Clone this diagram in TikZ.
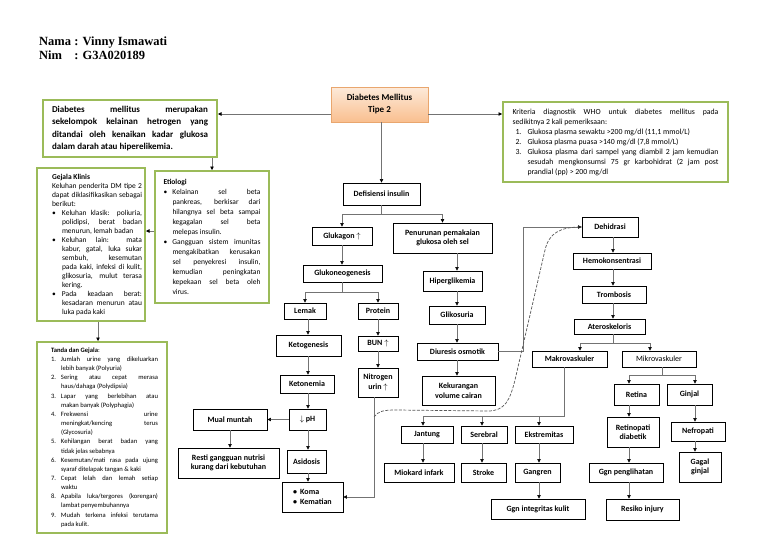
\documentclass[tikz,border=0pt]{standalone}
\usepackage{fontspec}
\setmainfont{Carlito}
\newfontfamily\titlefont{Liberation Serif}
\usetikzlibrary{arrows.meta,shadows,calc}
\definecolor{gborder}{HTML}{9BBB59}
\definecolor{dmtop}{HTML}{FDEADA}
\definecolor{dmbot}{HTML}{F9BF8F}
\definecolor{dmdraw}{HTML}{E9A66E}
\newcommand\JL[2]{\makebox[#1][s]{#2}}
\newcommand\BL[3]{\makebox[#1][l]{\textbullet}\makebox[#2][s]{#3}}
\newcommand\CL[3]{\hspace*{#1}\makebox[#2][s]{#3}}
\newcommand\LL[2]{\hspace*{#1}#2}
\newcommand\TN[2]{\makebox[10pt][l]{#1}\makebox[97pt][s]{#2}}
\newcommand\TC[1]{\hspace*{10pt}\makebox[97pt][s]{#1}}
\newcommand\TL[1]{\hspace*{10pt}#1}
\newcommand\bx[7][]{\node[box,#1,minimum width={#5-#3},minimum height={#6-#4}] (#2) at ({(#3+#5)/2},{(#4+#6)/2}) {#7};}
\begin{document}
\begin{tikzpicture}[x=1pt,y=-1pt,
  box/.style={draw=black, line width=0.9pt, fill=white, inner sep=0pt, align=center,
    font=\fontsize{8}{9.5}\selectfont\bfseries,
    drop shadow={shadow xshift=1pt, shadow yshift=-1pt, opacity=0.25}},
  gbox/.style={draw=gborder, line width=2pt, fill=white, inner sep=0pt},
  conn/.style={draw=black!55, line width=0.6pt, -{Triangle[color=black,length=3.5pt,width=3.5pt]}},
  plain/.style={draw=black!55, line width=0.6pt},
  dline/.style={draw=black!65, line width=0.7pt, dash pattern=on 3pt off 1.5pt}]
\useasboundingbox (0,0) rectangle (768,543);
\fill[white] (0,0) rectangle (768,543);

% helper coordinates
\coordinate (y114) at (0,114);
\coordinate (y231) at (0,231);
\coordinate (x98) at (98,0);
\coordinate (x374) at (374,0);
\coordinate (x523) at (523,0);
\coordinate (x613) at (613,0);
\coordinate (y343) at (0,343);
\coordinate (x580) at (580,0);
\coordinate (x650) at (650,0);
\coordinate (y375) at (0,375);
\coordinate (x629) at (629,0);
\coordinate (x662) at (662,0);
\coordinate (x695) at (695,0);
\coordinate (y416) at (0,416);
\coordinate (x564) at (564,0);
\coordinate (x423) at (423,0);
\coordinate (x482) at (482,0);
\coordinate (x539) at (539,0);
\coordinate (x308) at (308,0);
\coordinate (x457) at (457,0);

% title
\node[anchor=north west, inner sep=0pt, font=\titlefont\bfseries\fontsize{12.5}{14.5}\selectfont] (title) at (39,35)
  {\begin{tabular}{@{}l@{ }l@{}}Nama & : Vinny Ismawati\\ Nim & : G3A020189\end{tabular}};

% green text boxes
\node[gbox, minimum width=174, minimum height=57] (def) at (130,128.5)
  {\parbox{156pt}{\fontsize{9}{12.5}\selectfont\bfseries
   \JL{156pt}{Diabetes mellitus merupakan}\\
   \JL{156pt}{sekelompok kelainan hetrogen yang}\\
   \JL{156pt}{ditandai oleh kenaikan kadar glukosa}\\
   dalam darah atau hiperelikemia.}};

\node[gbox, minimum width=225, minimum height=80] (who) at (615.5,142)
  {\parbox{206pt}{\fontsize{7.8}{10}\selectfont
   \JL{206pt}{Kriteria diagnostik WHO untuk diabetes mellitus pada}\\
   sedikitnya 2 kali pemeriksaan:\\
   \hspace*{3pt}\makebox[12pt][l]{1.}Glukosa plasma sewaktu >200 mg/dl (11,1 mmol/L)\\
   \hspace*{3pt}\makebox[12pt][l]{2.}Glukosa plasma puasa >140 mg/dl (7,8 mmol/L)\\
   \hspace*{3pt}\makebox[12pt][l]{3.}\makebox[191pt][s]{Glukosa plasma dari sampel yang diambil 2 jam kemudian}\\
   \CL{15pt}{191pt}{sesudah mengkonsumsi 75 gr karbohidrat (2 jam post}\\
   \LL{15pt}{prandial (pp) > 200 mg/dl}}};

\node[gbox, minimum width=108, minimum height=153] (gk) at (91,244.5)
  {\hspace*{12pt}\parbox{90pt}{\fontsize{7.5}{9}\selectfont
   \textbf{Gejala Klinis}\\
   \JL{90pt}{Keluhan penderita DM tipe 2}\\
   \JL{90pt}{dapat diklasifikasikan sebagai}\\
   berikut:\\
   \BL{10pt}{80pt}{Keluhan klasik: poliuria,}\\
   \CL{10pt}{80pt}{polidipsi, berat badan}\\
   \LL{10pt}{menurun, lemah badan}\\
   \BL{10pt}{80pt}{Keluhan lain: mata}\\
   \CL{10pt}{80pt}{kabur, gatal, luka sukar}\\
   \CL{10pt}{80pt}{sembuh, kesemutan}\\
   \CL{10pt}{80pt}{pada kaki, infeksi di kulit,}\\
   \CL{10pt}{80pt}{glikosuria, mulut terasa}\\
   \LL{10pt}{kering.}\\
   \BL{10pt}{80pt}{Pada keadaan berat:}\\
   \CL{10pt}{80pt}{kesadaran menurun atau}\\
   \LL{10pt}{luka pada kaki}}};

\node[gbox, minimum width=114, minimum height=132] (etio) at (212,237)
  {\parbox{97pt}{\fontsize{7.5}{10}\selectfont
   \textbf{Etiologi}\\
   \BL{9pt}{88pt}{Kelainan sel beta}\\
   \CL{9pt}{88pt}{pankreas, berkisar dari}\\
   \CL{9pt}{88pt}{hilangnya sel beta sampai}\\
   \CL{9pt}{88pt}{kegagalan sel beta}\\
   \LL{9pt}{melepas insulin.}\\
   \BL{9pt}{88pt}{Gangguan sistem imunitas}\\
   \CL{9pt}{88pt}{mengakibatkan kerusakan}\\
   \CL{9pt}{88pt}{sel penyekresi insulin,}\\
   \CL{9pt}{88pt}{kemudian peningkatan}\\
   \CL{9pt}{88pt}{kepekaan sel beta oleh}\\
   \LL{9pt}{virus.}}};

\node[gbox, minimum width=130, minimum height=191] (tanda) at (102,437.5)
  {\hspace*{5pt}\parbox{107pt}{\fontsize{6.6}{9.15}\selectfont
   \textbf{Tanda dan Gejala}:\\
   \TN{1.}{Jumlah urine yang dikeluarkan}\\
   \TL{lebih banyak (Polyuria)}\\
   \TN{2.}{Sering atau cepat merasa}\\
   \TL{haus/dahaga (Polydipsia)}\\
   \TN{3.}{Lapar yang berlebihan atau}\\
   \TL{makan banyak (Polyphagia)}\\
   \TN{4.}{Frekwensi urine}\\
   \TC{meningkat/kencing terus}\\
   \TL{(Glycosuria)}\\
   \TN{5.}{Kehilangan berat badan yang}\\
   \TL{tidak jelas sebabnya}\\
   \TN{6.}{Kesemutan/mati rasa pada ujung}\\
   \TL{syaraf ditelapak tangan \& kaki}\\
   \TN{7.}{Cepat lelah dan lemah setiap}\\
   \TL{waktu}\\
   \TN{8.}{Apabila luka/tergores (korengan)}\\
   \TL{lambat penyembuhannya}\\
   \TN{9.}{Mudah terkena infeksi terutama}\\
   \TL{pada kulit.}}};

% main box
\bx[draw=dmdraw, top color=dmtop, bottom color=dmbot, font=\fontsize{9}{12}\selectfont\bfseries]{dm}{331}{87}{428}{122}{Diabetes Mellitus\\Tipe 2}

% flowchart boxes
\bx{defins}{343}{183}{420}{205}{Defisiensi insulin}
\bx{gluk}{312}{227}{372}{245}{Glukagon $\uparrow$}
\bx{glukon}{303}{265}{382}{282}{Glukoneogenesis}
\bx{pen}{393}{223}{492}{253}{Penurunan pemakaian\\glukosa oleh sel}
\bx{lemak}{284}{303}{326}{319}{Lemak}
\bx{protein}{358}{303}{398}{319}{Protein}
\bx{ketog}{276}{335}{341}{356}{Ketogenesis}
\bx{bun}{358}{336}{398}{351}{BUN $\uparrow$}
\bx{nitro}{358}{368}{398}{397}{Nitrogen\\urin $\uparrow$}
\bx{keton}{280}{375}{334}{393}{Ketonemia}
\bx{ph}{289}{409}{326}{430}{$\downarrow$ pH}
\bx{mual}{193}{409}{267}{430}{Mual muntah}
\bx{resti}{178}{448}{279}{478}{Resti gangguan nutrisi\\kurang dari kebutuhan}
\bx{asid}{287}{450}{326}{473}{Asidosis}
\bx[align=left]{koma}{282}{482}{343}{512}{\makebox[7pt][l]{\textbullet}Koma\\\makebox[7pt][l]{\textbullet}Kematian}
\bx{hiper}{423}{271}{482}{291}{Hiperglikemia}
\bx{glikos}{429}{306}{485}{324}{Glikosuria}
\bx{diur}{417}{343}{498}{360}{Diuresis osmotik}
\bx{kekur}{422}{376}{495}{405}{Kekurangan\\volume cairan}
\bx{dehid}{582}{217}{638}{237}{Dehidrasi}
\bx{hemo}{573}{253}{651}{269}{Hemokonsentrasi}
\bx{tromb}{582}{286}{646}{303}{Trombosis}
\bx{ater}{574}{319}{645}{334}{Ateroskeloris}
\bx{makro}{532}{351}{607}{367}{Makrovaskuler}
\bx[font=\fontsize{8}{9.5}\selectfont]{mikro}{622}{351}{696}{367}{Mikrovaskuler}
\bx{retina}{614}{384}{659}{405}{Retina}
\bx{ginjal}{667}{384}{712}{405}{Ginjal}
\bx{retino}{607}{417}{659}{447}{Retinopati\\diabetik}
\bx{nefro}{671}{422}{725}{441}{Nefropati}
\bx{gagal}{679}{452}{721}{482}{Gagal\\ginjal}
\bx{ggnp}{589}{463}{663}{482}{Ggn penglihatan}
\bx{resiko}{606}{499}{679}{520}{Resiko injury}
\bx{jantung}{401}{426}{453}{443}{Jantung}
\bx{sereb}{461}{426}{507}{443}{Serebral}
\bx{ekstr}{515}{426}{573}{443}{Ekstremitas}
\bx{miok}{384}{463}{454}{482}{Miokard infark}
\bx{stroke}{461}{463}{506}{482}{Stroke}
\bx{gangren}{515}{463}{560}{482}{Gangren}
\bx{ggni}{491}{499}{585}{519}{Ggn integritas kulit}

% connectors: top part
\draw[conn] (dm.west |- y114) -- (def.east |- y114);
\draw[conn] (dm.east |- y114) -- (who.west |- y114);
\draw[conn] (dm.south -| defins.north) -- (defins.north);
\draw[conn] (def.south -| etio.north) -- (etio.north);
\draw[conn] (etio.west |- y231) -- (gk.east |- y231);
\draw[conn] (gk.south -| x98) -- (tanda.north -| x98);

% left branch
\draw[plain] (defins.south) -- ++(0,9) coordinate (b1);
\draw[conn] (b1) -| (gluk.north);
\draw[conn] (b1) -| (pen.north);
\draw[conn] (gluk.south) -- (gluk.south |- glukon.north);
\draw[plain] (glukon.south) -- ++(0,10) coordinate (b2);
\draw[conn] (b2) -| (lemak.north);
\draw[conn] (b2) -| (protein.north);
\draw[conn] (lemak.south -| x308) -- (ketog.north -| x308);
\draw[conn] (ketog.south -| x308) -- (keton.north -| x308);
\draw[conn] (keton.south -| x308) -- (ph.north -| x308);
\draw[conn] (ph.west) -- (mual.east);
\draw[conn] (mual.south) -- (mual.south |- resti.north);
\draw[conn] (ph.south -| x308) -- (asid.north -| x308);
\draw[conn] (asid.south -| x308) -- (koma.north -| x308);
\draw[conn] (protein.south) -- (bun.north);
\draw[conn] (bun.south) -- (nitro.north);
\draw[conn] (nitro.south -| x374) |- (koma.east);

% middle column
\draw[conn] (pen.south -| x457) -- (hiper.north -| x457);
\draw[conn] (hiper.south -| x457) -- (glikos.north -| x457);
\draw[conn] (glikos.south -| x457) -- (diur.north -| x457);
\draw[conn] (diur.south -| x457) -- (kekur.north -| x457);
\draw[conn] (diur.east) -- (x523 |- diur.east) -- (x523 |- dehid.west) -- (dehid.west);
\coordinate (dstart) at (374,417);
\draw[dline] (dstart) .. controls (378,411) and (384,410) .. (396,410) -- (488,411)
  .. controls (505,411) and (510,400) .. (515,380) -- (545,250)
  .. controls (549,233) and (560,227) .. (dehid.west);

% right column
\draw[conn] (dehid.south -| x613) -- (hemo.north -| x613);
\draw[conn] (hemo.south -| x613) -- (tromb.north -| x613);
\draw[conn] (tromb.south -| x613) -- (ater.north -| x613);
\draw[plain] (ater.south -| x613) -- (x613 |- y343);
\draw[plain] (x580 |- y343) -- (x650 |- y343);
\draw[conn] (x580 |- y343) -- (makro.north -| x580);
\draw[conn] (x650 |- y343) -- (mikro.north -| x650);
\draw[plain] (mikro.south -| x662) -- (x662 |- y375);
\draw[plain] (x629 |- y375) -- (x695 |- y375);
\draw[conn] (x629 |- y375) -- (retina.north -| x629);
\draw[conn] (x695 |- y375) -- (ginjal.north -| x695);
\draw[conn] (retina.south -| x629) -- (retino.north -| x629);
\draw[conn] (retino.south -| x629) -- (ggnp.north -| x629);
\draw[conn] (ggnp.south -| x629) -- (resiko.north -| x629);
\draw[conn] (ginjal.south -| x695) -- (nefro.north -| x695);
\draw[conn] (nefro.south -| x695) -- (gagal.north -| x695);
\draw[plain] (makro.south -| x564) -- (x564 |- y416) -- (x423 |- y416);
\draw[conn] (x423 |- y416) -- (jantung.north -| x423);
\draw[conn] (x482 |- y416) -- (sereb.north -| x482);
\draw[conn] (x539 |- y416) -- (ekstr.north -| x539);
\draw[conn] (jantung.south -| x423) -- (miok.north -| x423);
\draw[conn] (sereb.south -| x482) -- (stroke.north -| x482);
\draw[conn] (ekstr.south -| x539) -- (gangren.north -| x539);
\draw[conn] (gangren.south -| x539) -- (ggni.north -| x539);
\end{tikzpicture}
\end{document}
